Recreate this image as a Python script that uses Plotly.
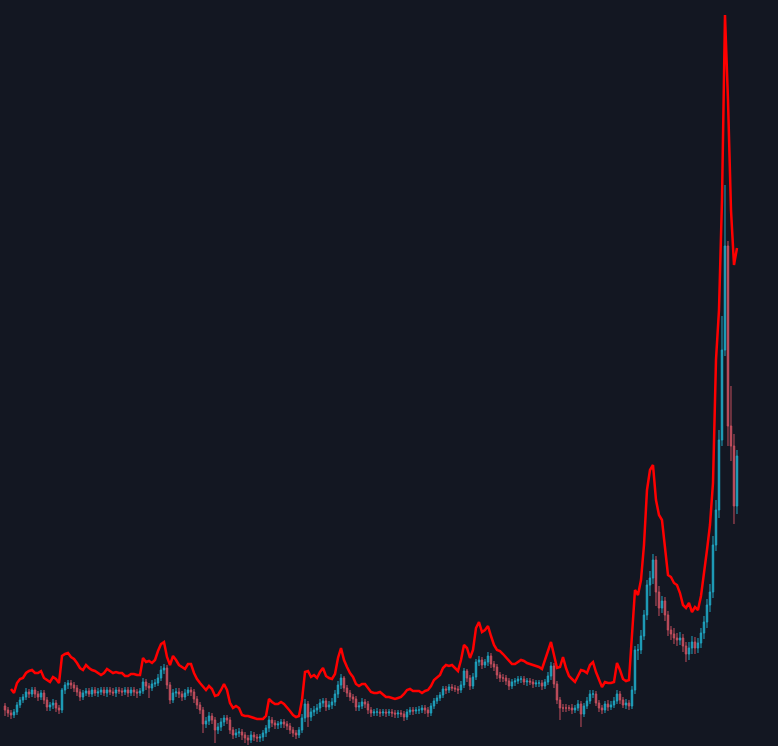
import plotly.graph_objects as go

# candle index (one bar per period)
idx = list(range(245))

opens = [40,36,33,31,34,41,46,49,54,52, 56,52,49,53,46,39,41,43,38,36,
         56,61,63,61,58,54,49,53,55,52, 56,53,54,56,53,56,54,53,56,55,
         54,56,53,56,54,53,55,64,60,58, 62,63,68,76,78,61,46,53,54,52,
         49,53,56,54,47,41,36,22,25,30, 26,16,19,24,28,26,16,11,13,14,
         11,8,6,11,9,8,9,13,18,26, 23,21,22,24,22,20,16,13,11,16,
         28,42,29,34,36,38,43,45,39,41, 44,52,61,68,58,53,49,47,39,40,
         44,42,36,33,34,34,33,34,33,34, 33,32,33,32,29,34,36,35,36,36,
         38,36,33,40,45,48,51,57,56,59, 58,57,56,61,75,68,60,69,84,86,
         81,84,90,82,79,71,68,68,65,60, 64,65,67,67,64,65,64,62,63,63,
         60,64,70,80,62,46,38,38,38,38, 36,38,42,32,40,45,52,52,43,38,
         36,42,39,41,45,52,46,41,43,40, 56,96,96,110,131,161,168,186,154,138,
         145,131,116,112,108,106,108,100,92,98, 104,98,103,113,124,141,154,201,236,306,
         396,500,320,300,240]

closes = [36,33,31,34,41,46,49,54,52,56, 52,49,53,46,39,41,43,38,36,56,
          61,63,61,58,54,49,53,55,52,56, 53,54,56,53,56,54,53,56,55,54,
          56,53,56,54,53,55,64,60,58,62, 63,68,76,78,61,46,53,54,52,49,
          53,56,54,47,41,36,22,25,30,26, 16,19,24,28,26,16,11,13,14,11,
          8,6,11,9,8,9,13,18,26,23, 21,22,24,22,20,16,13,11,16,28,
          42,29,34,36,38,43,45,39,41,44, 52,61,68,58,53,49,47,39,40,44,
          42,36,33,34,34,33,34,33,34,33, 32,33,32,29,34,36,35,36,36,38,
          36,33,40,45,48,51,57,56,59,58, 57,56,61,75,68,60,69,84,86,81,
          84,90,82,79,71,68,68,65,60,64, 65,67,67,64,65,64,62,63,63,60,
          64,70,80,62,46,38,38,38,38,36, 38,42,32,40,45,52,52,43,38,36,
          42,39,41,45,52,46,41,43,40,56, 96,96,110,131,161,168,186,154,138,145,
          131,116,112,108,106,108,100,92,98,104, 98,103,113,124,141,154,201,236,306,396,
          500,320,300,240,290]

highs = [43,39,36,37,44,49,52,58,57,59, 59,55,56,56,49,44,47,46,41,58,
         64,66,66,64,61,57,56,58,58,59, 59,58,59,59,59,59,58,59,59,58,
         59,59,59,59,57,58,68,67,63,66, 67,72,80,82,81,64,57,58,58,55,
         57,59,59,57,50,44,39,29,34,33, 29,23,28,31,31,29,19,17,18,17,
         14,11,15,14,12,12,16,21,30,29, 26,25,27,27,25,23,19,16,19,32,
         47,45,38,40,42,47,48,48,45,48, 56,65,72,70,61,56,52,50,44,48,
         47,45,39,37,38,37,37,37,37,37, 36,36,36,35,37,39,39,39,40,41,
         41,39,43,48,51,54,60,60,62,62, 61,60,65,78,77,71,73,87,90,89,
         87,94,93,85,82,74,72,71,68,67, 68,70,70,70,68,68,67,66,66,66,
         67,74,84,83,65,49,42,42,41,42, 41,46,45,43,49,56,56,55,46,41,
         45,46,45,49,56,55,49,47,46,60, 100,102,116,136,166,175,192,190,160,150,
         149,135,120,118,113,114,112,104,104,110, 109,108,118,130,147,162,210,246,316,430,
         561,505,360,312,296]

lows = [30,29,27,28,31,38,43,46,48,49, 48,45,46,42,35,35,37,34,32,33,
        52,57,57,54,50,45,46,50,49,49, 50,49,51,50,49,51,50,49,52,50,
        51,49,50,50,48,50,52,56,48,55, 59,60,65,72,57,42,43,49,48,45,
        46,50,50,43,37,32,13,18,21,22, 3,12,15,20,22,12,7,8,9,6,
        3,1,3,5,4,4,5,9,14,19, 17,17,18,18,16,12,9,7,8,13,
        24,19,25,30,32,34,39,35,36,37, 40,48,57,54,49,45,43,35,35,37,
        38,32,29,30,30,29,30,29,30,29, 28,28,29,25,26,31,31,32,32,33,
        32,29,30,37,42,45,48,52,53,55, 54,52,53,58,64,56,57,66,80,77,
        78,80,78,75,67,64,64,61,56,57, 60,62,63,61,60,61,58,59,59,56,
        57,61,66,58,42,26,34,34,35,32, 33,35,19,29,37,42,48,40,34,32,
        33,35,36,38,42,42,38,37,36,37, 52,86,92,106,126,150,162,140,130,133,
        125,110,106,102,100,101,94,84,86,92, 92,93,98,107,118,134,148,195,228,300,
        390,300,285,222,232]

upper_line = [None,None,57,53,63,67,68,73,75,76,
              73,73,75,68,66,64,69,67,63,90, 92,93,89,87,83,78,76,81,78,76,
              75,73,71,73,77,75,73,74,73,73, 70,70,72,72,71,71,88,84,85,83,
              86,95,102,104,89,81,90,86,81,79, 77,82,82,73,67,63,59,56,60,57,
              50,51,56,62,56,43,38,40,38,31, 30,30,29,28,27,27,27,30,47,44,
              42,42,44,42,39,35,31,29,30,46, 74,75,69,71,68,74,78,70,68,67,
              72,88,98,86,79,73,69,62,60,62, 62,58,54,53,53,54,51,49,49,48,
              47,48,49,52,56,57,55,55,55,53, 55,56,60,66,69,71,78,81,80,81,
              78,75,86,101,98,88,96,118,124,114, 116,120,110,101,96,95,92,89,85,82,
              82,84,86,85,83,82,81,80,79,77, 86,96,104,91,78,79,89,78,70,67,
              64,70,76,75,73,81,84,74,66,59, 64,63,63,64,83,76,67,65,66,113,
              156,151,166,201,256,276,281,246,231,226, 201,171,169,163,161,153,141,138,143,134,
              139,136,150,171,196,221,263,386,436,546, 731,646,536,481,498]

BG = "#131722"
UP = "#1fa3bf"
DOWN = "#c44f5e"

fig = go.Figure()
fig.add_trace(go.Candlestick(
    x=idx, open=opens, high=highs, low=lows, close=closes,
    increasing=dict(line=dict(color=UP, width=1), fillcolor=UP),
    decreasing=dict(line=dict(color=DOWN, width=1), fillcolor=DOWN),
    whiskerwidth=0, showlegend=False, hoverinfo="skip",
))
fig.add_trace(go.Scatter(
    x=idx, y=upper_line, mode="lines",
    line=dict(color="#ff0000", width=2.5),
    showlegend=False, hoverinfo="skip",
))

fig.update_layout(
    width=778, height=746,
    margin=dict(l=0, r=0, t=0, b=0),
    paper_bgcolor=BG, plot_bgcolor=BG,
    xaxis=dict(range=[-1.667, 257.67], visible=False, rangeslider=dict(visible=False)),
    yaxis=dict(range=[0, 746], visible=False),
)

fig.write_html(
    "out.html",
    config={"displayModeBar": False},
    post_script="document.body.style.margin='0';document.body.style.background='#131722';",
)
